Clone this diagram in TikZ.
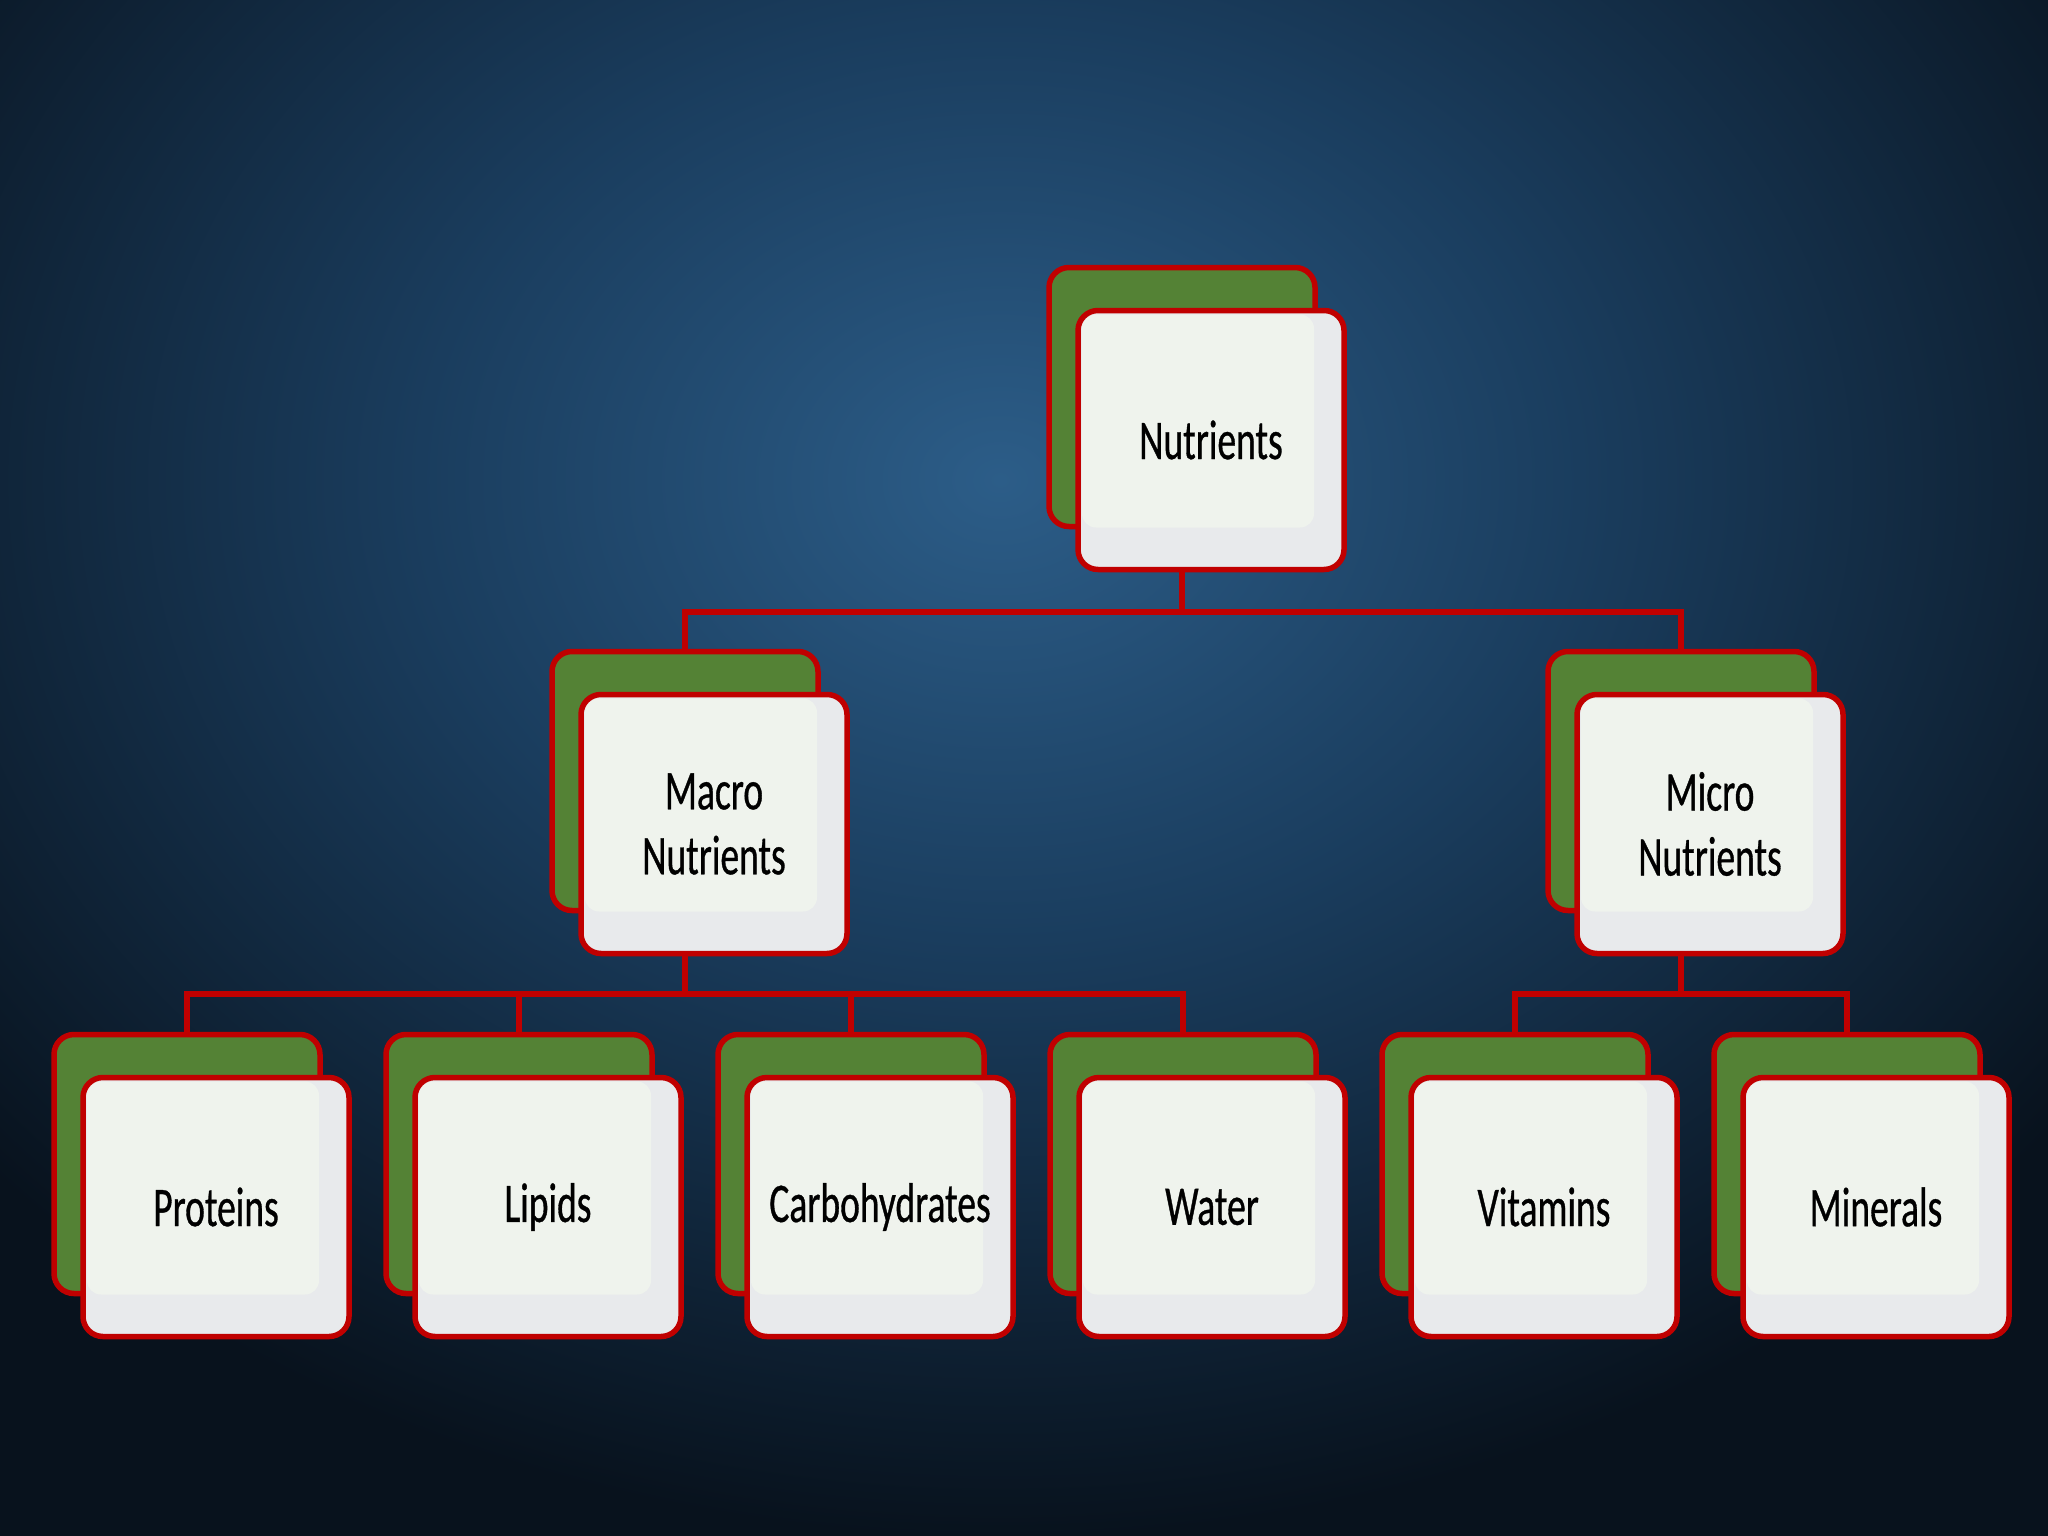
\documentclass[tikz,border=0pt]{standalone}
\usepackage{fontspec}
\setmainfont{Carlito}[FakeStretch=0.67,FakeBold=0.6]
\definecolor{bgin}{HTML}{2C5D88}
\definecolor{bgmid}{HTML}{1A3D5E}
\definecolor{bgout}{HTML}{08121D}
\definecolor{boxred}{HTML}{C00000}
\definecolor{boxgreen}{HTML}{548235}
\definecolor{boxwhite}{HTML}{EFF3ED}
\definecolor{boxgrey}{HTML}{E8EAEC}
\pgfdeclareradialshading{bgglow}{\pgfpoint{0bp}{0bp}}{color(0bp)=(bgin); color(10bp)=(bgmid); color(23bp)=(bgout); color(50bp)=(bgout)}
\tikzset{
    backbox/.style={draw=boxred, fill=boxgreen, line width=5.5pt, rounded corners=20pt,
        minimum width=266pt, minimum height=259pt, inner sep=0pt},
    frontbox/.style={backbox, fill=boxgrey, text=black, align=center,
        font=\fontsize{56}{65}\selectfont,
        path picture={\fill[boxwhite, rounded corners=14pt]
            ([shift={(4,4)}]path picture bounding box.north west) rectangle
            ([shift={(-30,-42)}]path picture bounding box.south east);}},
    link/.style={draw=boxred, line width=6pt}
}
\begin{document}
\begin{tikzpicture}[x=1pt,y=-1pt]
        \useasboundingbox (0,0) rectangle (2048,1536);
        \fill[bgout] (0,0) rectangle (2048,1536);
        \shade[shading=bgglow] (1000,480) ellipse (1450 and 1150);
        % top
        \node[backbox] (nutb) at (1182,397) {};
        \node[frontbox, xshift=29pt, yshift=-43pt] (nut) at (nutb) {Nutrients};
        % middle
        \node[backbox] (macrob) at (685,781) {};
        \node[frontbox, xshift=29pt, yshift=-43pt] (macro) at (macrob) {Macro\\Nutrients};
        \node[backbox] (microb) at (1681,781) {};
        \node[frontbox, xshift=29pt, yshift=-43pt] (micro) at (microb) {Micro\\Nutrients};
        % bottom
        \node[backbox] (protb) at (187,1164) {};
        \node[frontbox, xshift=29pt, yshift=-43pt] (prot) at (protb) {Proteins};
        \node[backbox] (lipb) at (519,1164) {};
        \node[frontbox, xshift=29pt, yshift=-43pt] (lip) at (lipb) {Lipids};
        \node[backbox] (carbb) at (851,1164) {};
        \node[frontbox, xshift=29pt, yshift=-43pt] (carb) at (carbb) {Carbohydrates};
        \node[backbox] (watb) at (1183,1164) {};
        \node[frontbox, xshift=29pt, yshift=-43pt] (wat) at (watb) {Water};
        \node[backbox] (vitb) at (1515,1164) {};
        \node[frontbox, xshift=29pt, yshift=-43pt] (vit) at (vitb) {Vitamins};
        \node[backbox] (minb) at (1847,1164) {};
        \node[frontbox, xshift=29pt, yshift=-43pt] (min) at (minb) {Minerals};
        % links
        \draw[link] (nut.south -| nutb) -- ++(0,40) -| (macrob.north);
        \draw[link] (nut.south -| nutb) -- ++(0,40) -| (microb.north);
        \draw[link] (macro.south -| macrob) -- ++(0,38) -| (protb.north);
        \draw[link] (macro.south -| macrob) -- ++(0,38) -| (lipb.north);
        \draw[link] (macro.south -| macrob) -- ++(0,38) -| (carbb.north);
        \draw[link] (macro.south -| macrob) -- ++(0,38) -| (watb.north);
        \draw[link] (micro.south -| microb) -- ++(0,38) -| (vitb.north);
        \draw[link] (micro.south -| microb) -- ++(0,38) -| (minb.north);
    \end{tikzpicture}
\end{document}
